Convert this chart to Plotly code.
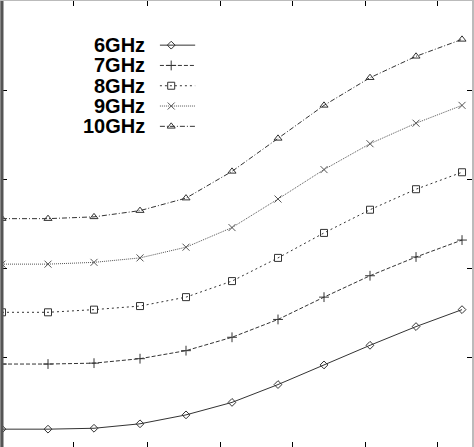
import plotly.graph_objects as go

# sweep index (11 points per curve)
x_vals = [0, 1, 2, 3, 4, 5, 6, 7, 8, 9, 10]

freq_labels = ['6GHz', '7GHz', '8GHz', '9GHz', '10GHz']

ghz6 = [0.20, 0.20, 0.21, 0.26, 0.36, 0.50, 0.70, 0.92, 1.14, 1.35, 1.54]
ghz7 = [0.93, 0.93, 0.94, 0.99, 1.08, 1.23, 1.43, 1.68, 1.92, 2.13, 2.32]
ghz8 = [1.51, 1.51, 1.54, 1.58, 1.68, 1.86, 2.12, 2.40, 2.66, 2.89, 3.08]
ghz9 = [2.05, 2.05, 2.07, 2.12, 2.24, 2.46, 2.78, 3.11, 3.40, 3.63, 3.83]
ghz10 = [2.56, 2.56, 2.58, 2.65, 2.79, 3.09, 3.46, 3.83, 4.14, 4.38, 4.57]

x_ticks = [1.565, 3.152, 4.739, 6.304, 7.891, 9.457]
y_ticks = [1, 2, 3, 4]

series = [ghz6, ghz7, ghz8, ghz9, ghz10]

# gnuplot-ish styles
styles = [
    dict(dash='solid', symbol='diamond-open', size=6, color='#333333'),
    dict(dash='4px,2px', symbol='cross-thin-open', size=7, color='#333333'),
    dict(dash='2px,3px', symbol='square-open', size=7, color='#333333'),
    dict(dash='1px,1px', symbol='x-thin-open', size=7, color='#555555'),
    dict(dash='5px,2px,1px,2px', symbol='triangle-up-open', size=7, color='#333333'),
]

fig = go.Figure()

for name, ys, st in zip(freq_labels, series, styles):
    fig.add_trace(go.Scatter(x=x_vals, y=ys, name=name, mode='lines+markers',
                             line=dict(color=st['color'], width=1, dash=st['dash']),
                             marker=dict(symbol=st['symbol'], size=st['size'],
                                         color=st['color'],
                                         line=dict(color=st['color'], width=1)),
                             cliponaxis=False, showlegend=False))

# hand-made legend (text on the left, key on the right, like gnuplot)
leg_text_x = 0.3085
leg_key_x0 = 0.336
leg_key_x1 = 0.411
leg_mark_x = 0.36
leg_y0 = 0.901
leg_dy = 0.0455

for i, (name, st) in enumerate(zip(freq_labels, styles)):
    yy = leg_y0 - i * leg_dy
    fig.add_annotation(x=leg_text_x, y=yy, xref='paper', yref='paper',
                       text='<b>' + name + '</b>', showarrow=False,
                       xanchor='right', yanchor='middle',
                       font=dict(family='Liberation Sans, Arial', size=20, color='black'))
    fig.add_trace(go.Scatter(x=[leg_key_x0, leg_key_x1], y=[yy, yy], mode='lines',
                             xaxis='x2', yaxis='y2', showlegend=False, hoverinfo='skip',
                             line=dict(color=st['color'], width=1, dash=st['dash'])))
    fig.add_trace(go.Scatter(x=[leg_mark_x], y=[yy], mode='markers',
                             xaxis='x2', yaxis='y2', showlegend=False, hoverinfo='skip',
                             marker=dict(symbol=st['symbol'], size=st['size'],
                                         color=st['color'],
                                         line=dict(color=st['color'], width=1))))

# frame edges
fig.add_shape(type='line', xref='paper', yref='paper', x0=0, x1=0, y0=0, y1=1,
              line=dict(color='#555555', width=3))

fig.update_layout(
    width=474, height=447,
    margin=dict(l=2, r=2, t=1, b=0),
    plot_bgcolor='white', paper_bgcolor='white',
    xaxis=dict(range=[0, 10.217], tickvals=x_ticks, showticklabels=False,
               ticks='inside', ticklen=5, tickcolor='black', showgrid=False,
               zeroline=False, showline=True, linecolor='#bbbbbb', linewidth=2,
               mirror='ticks'),
    yaxis=dict(range=[0, 5], tickvals=y_ticks, showticklabels=False,
               ticks='inside', ticklen=5, tickcolor='black', showgrid=False,
               zeroline=False, showline=True, linecolor='#bbbbbb', linewidth=2,
               mirror='ticks'),
    xaxis2=dict(range=[0, 1], overlaying='x', visible=False, fixedrange=True),
    yaxis2=dict(range=[0, 1], overlaying='y', visible=False, fixedrange=True),
    showlegend=False,
)

# drop the browser's default 8px body margin so the chart sits at the corner
fig.write_html('out.html', config={'displayModeBar': False},
               post_script="document.body.style.margin='0';")
